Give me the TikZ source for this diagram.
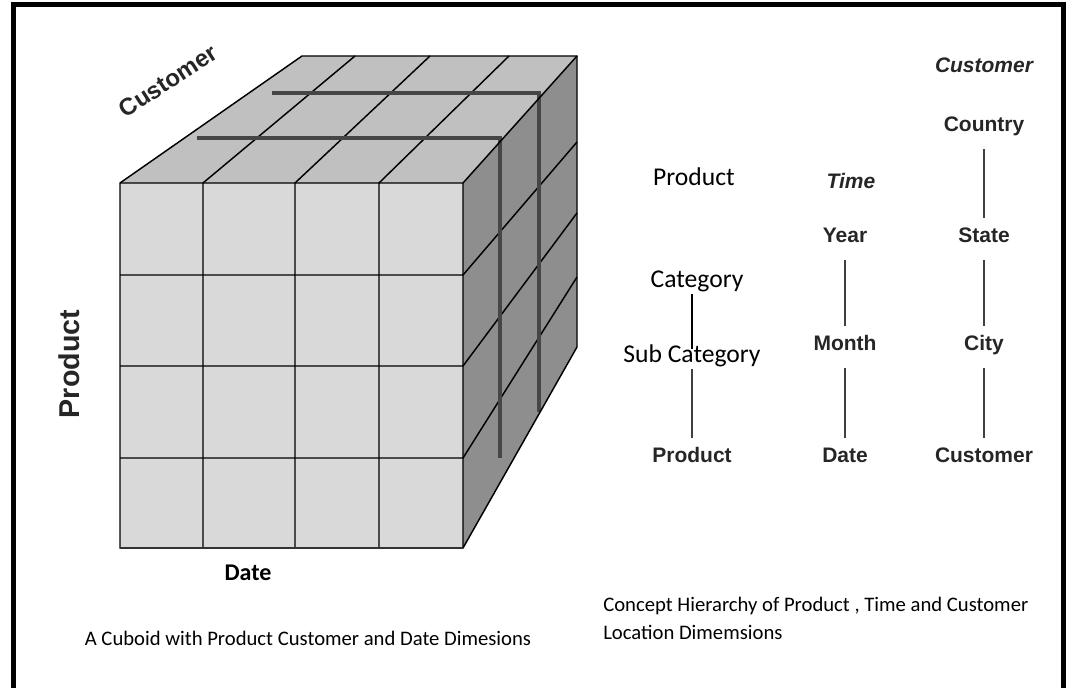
\documentclass[tikz,border=0pt]{standalone}
\usepackage{fontspec}
\setmainfont{Carlito}
\newfontfamily\arialfont{Liberation Sans}
\definecolor{frontgray}{RGB}{217,217,217}
\definecolor{topgray}{RGB}{192,192,192}
\definecolor{sidegray}{RGB}{142,142,142}
\definecolor{slabgray}{RGB}{70,70,70}
\tikzset{
	cubeline/.style={line width=1.1pt, black},
	slabline/.style={line width=3pt, draw=slabgray},
	dimlabel/.style={font=\arialfont\bfseries\fontsize{18}{20}\selectfont, text=black!85},
	level/.style={font=\arialfont\bfseries\fontsize{15.75}{18}\selectfont, text=black!85, text height=0.72em, text depth=0.2em, inner xsep=0pt, inner ysep=11pt},
	head/.style={level, font=\arialfont\bfseries\itshape\fontsize{15.75}{18}\selectfont},
	calibrilevel/.style={font=\fontsize{19.2}{22}\selectfont, text height=0.72em, text depth=0.2em, inner xsep=0pt, inner ysep=3pt},
	captiontext/.style={font=\fontsize{15.5}{21}\selectfont, inner sep=0pt},
	link/.style={line width=1.5pt, black!75}
}
\begin{document}
\begin{tikzpicture}[x=0.75pt, y=-0.75pt]
	\useasboundingbox (0,0) rectangle (1071,688);
	\draw [line width=3.75pt](13,700)--(13,5)--(1063,5)--(1063,700);

	\fill [frontgray](120,183) rectangle (463,548);
	\fill [topgray](120,183)--(302,56)--(577,56)--(463,183)--cycle;
	\fill [sidegray](463,183)--(577,56)--(577,347)--(463,548)--cycle;
	\foreach \x/\b in {203/355,295/430,379/509}
		\draw [cubeline](\x,548)--(\x,183)--(\b,56);
	\foreach \y/\b in {275/142,366/213,458/277}
		\draw [cubeline](120,\y)--(463,\y)--(577,\b);
	\draw [slabline](197,138)--(500,138)--(500,458);
	\draw [slabline](272,93)--(539,93)--(539,412);
	\draw [cubeline](120,548)--(120,183)--(302,56)--(577,56)--(577,347)--(463,548)--cycle;
	\draw [cubeline](120,183)--(463,183)--(577,56) (463,183)--(463,548);
	\draw [line width=2pt, black!80](120,548)--(463,548);

	\node (cubecust)[dimlabel, rotate=33] at (168,81) {Customer};
	\node (cubeprod)[dimlabel, font=\arialfont\bfseries\fontsize{21.5}{24}\selectfont, rotate=90] at (69,364) {Product};
	\node (cubedate)[font=\bfseries\fontsize{18}{20}\selectfont] at (248,573) {Date};
	\node (cubecaption)[captiontext] at (308,638) {A Cuboid with Product Customer and Date Dimesions};

	\node (prodhead)[calibrilevel] at (694,182) {Product};
	\node (category)[calibrilevel] at (697,284) {Category};
	\node (subcat)[calibrilevel] at (692,359) {Sub Category};
	\node (product)[level] at (692,459) {Product};

	\node (timehead)[head] at (851,185) {Time};
	\node (year)[level] at (845,239) {Year};
	\node (month)[level] at (845,347) {Month};
	\node (date)[level] at (845,459) {Date};

	\node (custhead)[head] at (984,69) {Customer};
	\node (country)[level] at (984,128) {Country};
	\node (state)[level] at (984,239) {State};
	\node (city)[level] at (984,347) {City};
	\node (customer)[level] at (984,459) {Customer};

	\draw [link, black, line width=1.8pt](category.south -| subcat.north)--(subcat.north);
	\draw [link](subcat)--(product);
	\draw [link](year)--(month);
	\draw [link](month)--(date);
	\draw [link](country)--(state);
	\draw [link](state)--(city);
	\draw [link](city)--(customer);

	\node (hiercaption)[captiontext, anchor=north west, align=left] at (603,597) {Concept Hierarchy of Product , Time and Customer\\Location Dimemsions};
\end{tikzpicture}
\end{document}
